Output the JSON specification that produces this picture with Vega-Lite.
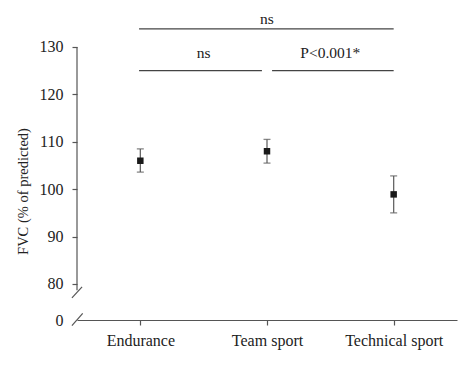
{
  "$schema": "https://vega.github.io/schema/vega-lite/v6.json",
  "width": 380,
  "height": 310,
  "autosize": {"type": "none"},
  "padding": {"left": 77, "top": 10, "right": 17, "bottom": 45},
  "background": "white",
  "config": {
    "view": {"stroke": null},
    "font": "Liberation Serif",
    "axis": {
      "labelFont": "Liberation Serif",
      "labelFontSize": 16,
      "labelColor": "#222222",
      "titleFont": "Liberation Serif",
      "titleFontSize": 14.5,
      "titleFontWeight": "normal",
      "titleColor": "#222222",
      "tickColor": "#555555",
      "domainColor": "#555555",
      "tickWidth": 1.2,
      "domainWidth": 1.2,
      "tickSize": 5,
      "grid": false
    }
  },
  "datasets": {
    "groups": [
      {"group": "Endurance", "pos": 0.5, "mean": 106.0, "lo": 103.6, "hi": 108.5},
      {"group": "Team sport", "pos": 1.5, "mean": 108.0, "lo": 105.5, "hi": 110.5},
      {"group": "Technical sport", "pos": 2.5, "mean": 98.9, "lo": 95.0, "hi": 102.8}
    ],
    "yline": [{"x": 0, "y": 78.7, "y2": 130}],
    "breaks": [
      {"x": -0.04, "x2": 0.04, "y": 77.05, "y2": 79.4},
      {"x": -0.04, "x2": 0.045, "y": 71.2, "y2": 73.8}
    ],
    "sigLines": [
      {"x": 0.49, "x2": 1.46, "y": 125},
      {"x": 1.54, "x2": 2.5, "y": 125},
      {"x": 0.49, "x2": 2.5, "y": 133.8}
    ],
    "sigText": [
      {"x": 1.0, "y": 127.7, "label": "ns"},
      {"x": 2.0, "y": 127.7, "label": "P<0.001*"},
      {"x": 1.5, "y": 134.9, "label": "ns"}
    ]
  },
  "layer": [
    {
      "data": {"name": "groups"},
      "mark": {"type": "rule", "color": "#666666", "strokeWidth": 1.3},
      "encoding": {
        "x": {
          "field": "pos", "type": "quantitative", "title": null,
          "scale": {"domain": [0, 3], "nice": false, "zero": false},
          "axis": {
            "values": [0.5, 1.5, 2.5],
            "labelExpr": "datum.value < 1 ? 'Endurance' : datum.value < 2 ? 'Team sport' : 'Technical sport'",
            "labelPadding": 7,
            "labelBaseline": "top",
            "labelAlign": "center"
          }
        },
        "y": {
          "field": "lo", "type": "quantitative", "title": "FVC (% of predicted)",
          "scale": {"domain": [72.4, 137.8], "nice": false, "zero": false},
          "axis": {
            "values": [72.4, 80, 90, 100, 110, 120, 130],
            "labelExpr": "datum.value < 75 ? '0' : datum.label",
            "tickOpacity": {"expr": "datum.value < 75 ? 0 : 1"},
            "domain": false,
            "labelPadding": 9,
            "titleX": -54,
            "titleY": 181,
            "titleBaseline": "middle",
            "titleAlign": "center"
          }
        },
        "y2": {"field": "hi"}
      }
    },
    {
      "data": {"name": "groups"},
      "mark": {"type": "tick", "orient": "horizontal", "color": "#555555", "thickness": 1.3, "size": 7},
      "encoding": {
        "x": {"field": "pos", "type": "quantitative"},
        "y": {"field": "lo", "type": "quantitative"}
      }
    },
    {
      "data": {"name": "groups"},
      "mark": {"type": "tick", "orient": "horizontal", "color": "#555555", "thickness": 1.3, "size": 7},
      "encoding": {
        "x": {"field": "pos", "type": "quantitative"},
        "y": {"field": "hi", "type": "quantitative"}
      }
    },
    {
      "data": {"name": "groups"},
      "mark": {"type": "point", "shape": "square", "filled": true, "color": "#1a1a1a", "size": 42, "opacity": 1},
      "encoding": {
        "x": {"field": "pos", "type": "quantitative"},
        "y": {"field": "mean", "type": "quantitative"}
      }
    },
    {
      "data": {"name": "yline"},
      "mark": {"type": "rule", "color": "#555555", "strokeWidth": 1.2},
      "encoding": {
        "x": {"field": "x", "type": "quantitative"},
        "y": {"field": "y", "type": "quantitative"},
        "y2": {"field": "y2"}
      }
    },
    {
      "data": {"name": "breaks"},
      "mark": {"type": "rule", "color": "#555555", "strokeWidth": 1.2},
      "encoding": {
        "x": {"field": "x", "type": "quantitative"},
        "x2": {"field": "x2"},
        "y": {"field": "y", "type": "quantitative"},
        "y2": {"field": "y2"}
      }
    },
    {
      "data": {"name": "sigLines"},
      "mark": {"type": "rule", "color": "#444444", "strokeWidth": 1.3},
      "encoding": {
        "x": {"field": "x", "type": "quantitative"},
        "x2": {"field": "x2"},
        "y": {"field": "y", "type": "quantitative"}
      }
    },
    {
      "data": {"name": "sigText"},
      "mark": {"type": "text", "font": "Liberation Serif", "fontSize": 15.5, "color": "#222222", "baseline": "alphabetic", "align": "center"},
      "encoding": {
        "x": {"field": "x", "type": "quantitative"},
        "y": {"field": "y", "type": "quantitative"},
        "text": {"field": "label"}
      }
    }
  ]
}
